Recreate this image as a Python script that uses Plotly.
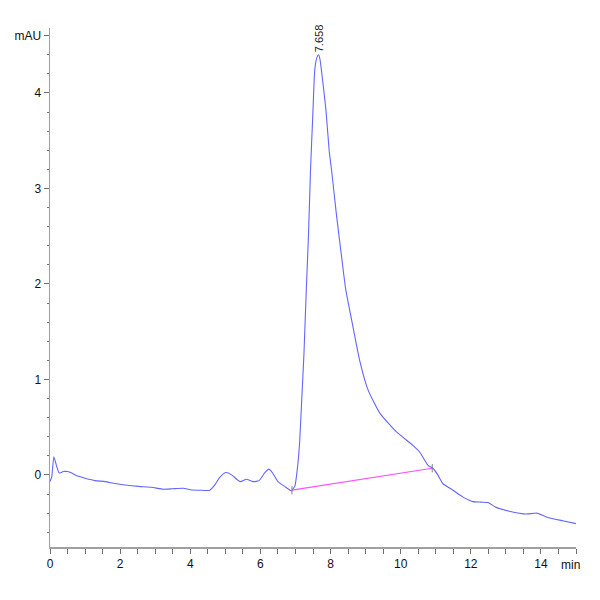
import plotly.graph_objects as go

# Chromatogram signal (min, mAU)
time_min = [0.0, 0.05, 0.11, 0.19, 0.26, 0.38, 0.5, 0.62, 0.76, 1.0, 1.28, 1.57, 1.85,
            2.14, 2.52, 2.9, 3.23, 3.5, 3.8, 4.0, 4.27, 4.56, 4.70, 4.84, 5.01, 5.18,
            5.32, 5.43, 5.6, 5.79, 5.96, 6.12, 6.24, 6.34, 6.5, 6.69, 6.88, 6.98, 7.05,
            7.12, 7.18, 7.24, 7.31, 7.37, 7.43, 7.50, 7.55, 7.61, 7.66, 7.70, 7.74, 7.87,
            7.96, 8.03, 8.17, 8.31, 8.43, 8.64, 8.83, 9.07, 9.40, 9.88, 10.35, 10.54, 10.78,
            10.92, 11.06, 11.2, 11.49, 11.77, 12.06, 12.3, 12.49, 12.72, 13.1, 13.58, 13.88,
            14.15, 14.62, 15.0]
signal_mau = [-0.07, -0.02, 0.19, 0.09, 0.02, 0.035, 0.035, 0.02, -0.01, -0.035, -0.06,
              -0.07, -0.09, -0.105, -0.12, -0.13, -0.15, -0.145, -0.14, -0.155, -0.16,
              -0.16, -0.105, -0.025, 0.025, 0.0, -0.045, -0.07, -0.045, -0.07, -0.06,
              0.02, 0.06, 0.025, -0.07, -0.12, -0.165, -0.12, 0.05,
              0.35, 0.8, 1.25, 1.95, 2.5, 3.2, 3.82, 4.24, 4.37, 4.4, 4.35, 4.24, 3.82,
              3.40, 3.19, 2.72, 2.3, 1.95, 1.55, 1.2, 0.89, 0.65, 0.45, 0.31, 0.24, 0.10,
              0.07, 0.0, -0.09, -0.16, -0.23, -0.28, -0.285, -0.29, -0.34, -0.38, -0.41, -0.40,
              -0.44, -0.48, -0.51]

# Integration baseline
baseline_t = [6.90, 10.90]
baseline_v = [-0.16, 0.07]

# Peak annotation
peak_rt = 7.658
peak_height = 4.40
peak_label = "7.658"

x_tick_vals = [0, 2, 4, 6, 8, 10, 12, 14]
x_tick_text = ["0", "2", "4", "6", "8", "10", "12", "14"]
y_tick_vals = [0, 1, 2, 3, 4, 4.6]
y_tick_text = ["0", "1", "2", "3", "4", "mAU"]

font_family = "Liberation Sans Narrow, Liberation Sans, Arial"

fig = go.Figure()
fig.add_trace(go.Scatter(x=time_min, y=signal_mau, mode="lines",
                         line=dict(color="rgb(100,100,255)", width=1.1, shape="spline", smoothing=0.5),
                         hoverinfo="skip"))
fig.add_trace(go.Scatter(x=baseline_t, y=baseline_v, mode="lines+markers",
                         line=dict(color="rgb(255,80,255)", width=1.2),
                         marker=dict(symbol="line-ns", size=6,
                                     line=dict(color="rgb(130,130,130)", width=1)),
                         hoverinfo="skip"))

fig.add_annotation(x=peak_rt, y=peak_height, text=peak_label, textangle=-90,
                   showarrow=False, xanchor="center", yanchor="bottom",
                   font=dict(family=font_family, size=11, color="#222"))
fig.add_annotation(x=14.83, y=0, xref="x", yref="paper", text="min", showarrow=False,
                   yanchor="top", yshift=-9, font=dict(family=font_family, size=12, color="#111"))

axis_common = dict(showgrid=False, zeroline=False, showline=True,
                   linecolor="rgb(160,160,160)", linewidth=1.5, ticks="outside",
                   tickcolor="rgb(110,110,110)", tickwidth=1,
                   tickfont=dict(family=font_family, size=12, color="#111"))

fig.update_xaxes(range=[0, 15], tickmode="array", tickvals=x_tick_vals, ticktext=x_tick_text,
                 ticklen=5, minor=dict(dtick=0.5, ticklen=5, ticks="outside",
                                       tickcolor="rgb(110,110,110)"),
                 **axis_common)
fig.update_yaxes(range=[-0.755, 4.68], tickmode="array", tickvals=y_tick_vals, ticktext=y_tick_text,
                 ticklen=5, minor=dict(dtick=0.2, ticklen=2, ticks="outside",
                                       tickcolor="rgb(110,110,110)"),
                 **axis_common)

fig.update_layout(width=600, height=600, showlegend=False,
                  plot_bgcolor="white", paper_bgcolor="white",
                  margin=dict(l=50, r=24, t=28, b=53))

fig.write_html("out.html", config={"displayModeBar": False, "staticPlot": True},
               post_script="document.body.style.margin='0';")
